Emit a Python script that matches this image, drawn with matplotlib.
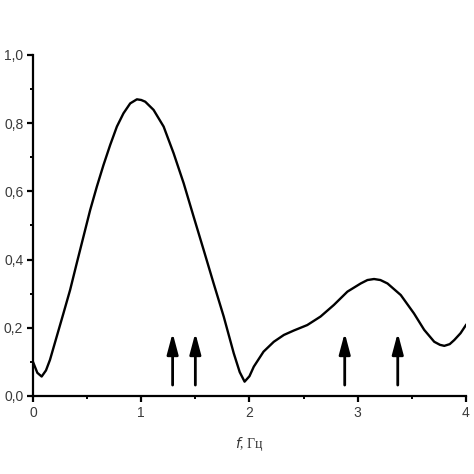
import matplotlib.pyplot as plt
import matplotlib
matplotlib.rcParams['font.family'] = 'Liberation Sans'

# curve
freq = [0.0, 0.04, 0.08, 0.12, 0.157, 0.219, 0.281, 0.343, 0.404, 0.466, 0.528, 0.59,
        0.651, 0.713, 0.775, 0.836, 0.898, 0.96, 1.0, 1.037, 1.114, 1.207, 1.299,
        1.392, 1.484, 1.577, 1.669, 1.762, 1.855, 1.91, 1.955, 2.0, 2.04, 2.13, 2.225,
        2.318, 2.41, 2.534, 2.657, 2.78, 2.905, 3.028, 3.09, 3.151, 3.21, 3.275, 3.398,
        3.52, 3.614, 3.707, 3.76, 3.80, 3.85, 3.892, 3.95, 4.0]
amp = [0.100, 0.068, 0.057, 0.075, 0.106, 0.174, 0.242, 0.311, 0.389, 0.467, 0.545, 0.614,
       0.677, 0.736, 0.790, 0.829, 0.858, 0.870, 0.868, 0.863, 0.839, 0.790, 0.712,
       0.624, 0.526, 0.428, 0.330, 0.233, 0.125, 0.070, 0.042, 0.058, 0.086, 0.130, 0.159,
       0.179, 0.192, 0.208, 0.233, 0.267, 0.306, 0.330, 0.340, 0.343, 0.340, 0.330, 0.296,
       0.242, 0.194, 0.159, 0.150, 0.147, 0.152, 0.164, 0.184, 0.208]

# arrow markers
arrow_x = [1.29, 1.50, 2.88, 3.37]
arrow_bottom = 0.032
arrow_top = 0.185

yticks = [0.0, 0.2, 0.4, 0.6, 0.8, 1.0]
ytick_labels = ["0,0", "0,2", "0,4", "0,6", "0,8", "1,0"]
xticks = [0, 1, 2, 3, 4]

fig = plt.figure(figsize=(4.74, 4.74), dpi=100)
ax = fig.add_axes([0.0696, 0.1646, 0.9134, 0.7194])

ax.plot(freq, amp, color="black", lw=1.7, solid_joinstyle="round")

for x in arrow_x:
    ax.annotate("", xy=(x, arrow_top), xytext=(x, arrow_bottom),
                arrowprops=dict(arrowstyle="-|>,head_length=1.05,head_width=0.28",
                                mutation_scale=12, lw=2, color="black",
                                shrinkA=0, shrinkB=0))

ax.set_xlim(0, 4)
ax.set_ylim(0, 1.0)
ax.spines["top"].set_visible(False)
ax.spines["right"].set_visible(False)
for s in ["left", "bottom"]:
    ax.spines[s].set_linewidth(1.6)

ax.set_xticks(xticks)
ax.set_xticklabels([str(t) for t in xticks])
ax.set_xticks([0.5, 1.5, 2.5, 3.5], minor=True)
ax.set_yticks(yticks)
ax.set_yticklabels(ytick_labels)
ax.set_yticks([0.1, 0.3, 0.5, 0.7, 0.9], minor=True)
ax.tick_params(which="major", direction="out", length=4, width=1.6, labelsize=10,
               pad=3, labelcolor="#3a3a3a")
ax.tick_params(which="minor", direction="out", length=2.5, width=1.4)

ax.set_xlabel(r"$\it{f}$, Гц", fontsize=10, family="Liberation Serif", color="#333333", labelpad=11)

plt.savefig("out.png", dpi=100)
